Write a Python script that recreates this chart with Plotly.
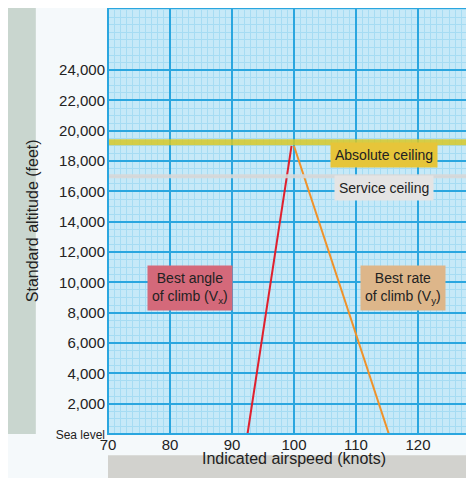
import plotly.graph_objects as go

# data
vx_speed = [92.5, 99.6]
vx_alt = [0, 19000]
vy_speed = [100.0, 115.3]
vy_alt = [19000, 0]
absolute_ceiling = 19250
service_ceiling = 17000
y_ticks = [0, 2000, 4000, 6000, 8000, 10000, 12000, 14000, 16000, 18000, 20000, 22000, 24000]
y_labels = ["<span style='font-size:12px'>Sea level</span>"] + [f"{v:,}" for v in y_ticks[1:]]
x_ticks = [70, 80, 90, 100, 110, 120]

grid = "#2aa6df"
fig = go.Figure()

fig.add_hline(y=absolute_ceiling, line=dict(color="rgba(214,200,40,0.85)", width=6))
fig.add_hline(y=service_ceiling, line=dict(color="rgba(215,215,215,0.9)", width=4))

fig.add_trace(go.Scatter(x=vx_speed, y=vx_alt, mode="lines",
                         line=dict(color="#e0202e", width=2), showlegend=False))
fig.add_trace(go.Scatter(x=vy_speed, y=vy_alt, mode="lines",
                         line=dict(color="#f0922a", width=2), showlegend=False))

def box(x, y, text, bg):
    fig.add_annotation(x=x, y=y, text=text, showarrow=False, bgcolor=bg,
                       font=dict(size=14, color="#222"), borderpad=4)

box(83.2, 9600, "Best angle<br>of climb (V<sub>x</sub>)", "#d4697a")
box(117.6, 9600, "Best rate<br>of climb (V<sub>y</sub>)", "#ddb68a")
box(114.5, 18400, "Absolute ceiling", "#e6c53a")
box(114.5, 16200, "Service ceiling", "#e4e4e4")

# gray title strips
fig.add_shape(type="rect", xref="paper", yref="paper", x0=-0.269, x1=-0.194, y0=0, y1=1,
              fillcolor="#c9d6cf", line_width=0, layer="below")
fig.add_shape(type="rect", xref="paper", yref="paper", x0=0, x1=1, y0=-0.115, y1=-0.05,
              fillcolor="#d2d2ce", line_width=0, layer="below")
fig.add_annotation(xref="paper", yref="paper", x=-0.232, y=0.5, text="Standard altitude (feet)",
                   textangle=-90, showarrow=False, font=dict(size=16, color="#222"))
fig.add_annotation(xref="paper", yref="paper", x=0.5, y=-0.083, text="Indicated airspeed (knots)",
                   showarrow=False, font=dict(size=16, color="#222"))

fig.update_xaxes(range=[70, 130], tickvals=x_ticks, showgrid=True, gridcolor=grid, gridwidth=1.5,
                 ticks="", zeroline=False, ticklabelstandoff=0,
                 minor=dict(dtick=1, showgrid=True, gridcolor="#a6dcf3", gridwidth=1),
                 tickfont=dict(size=15, color="#222"))
fig.update_yaxes(range=[0, 28100], tickvals=y_ticks, ticktext=y_labels, showgrid=True,
                 gridcolor=grid, gridwidth=1.5, zeroline=False, ticklabelstandoff=2,
                 minor=dict(dtick=500, showgrid=True, gridcolor="#a6dcf3", gridwidth=1),
                 tickfont=dict(size=15, color="#222"))
# major vertical lines every 5 knots
fig.update_xaxes(dtick=5, tickmode="array")
fig.add_shape(type="rect", xref="paper", yref="paper", x0=0, x1=1, y0=0, y1=1,
              line=dict(color=grid, width=2))

fig.update_layout(width=474, height=478, margin=dict(l=100, r=2, t=0, b=52, pad=0),
                  plot_bgcolor="#c6e9f8", paper_bgcolor="#f5f9fb",
                  font=dict(family="Liberation Sans, Arial"))
fig.write_html("out.html")
